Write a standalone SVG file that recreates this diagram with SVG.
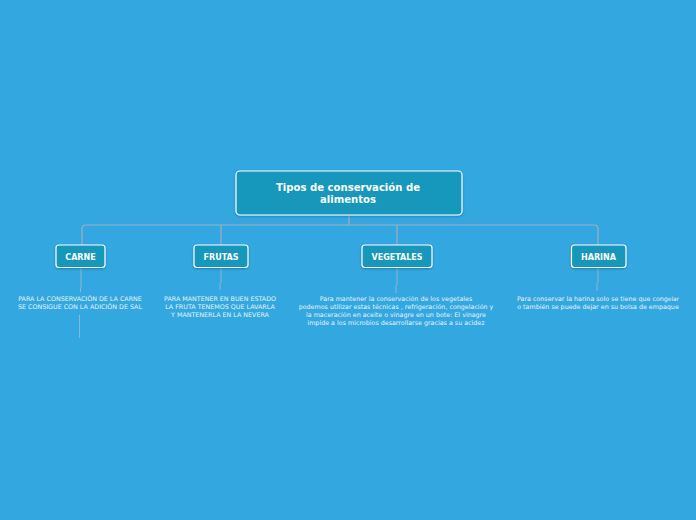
<svg xmlns="http://www.w3.org/2000/svg" width="696" height="520" viewBox="0 0 696 520">
  <style>
    .bg { fill: #33a7e0; }
    .box { fill: #1398bd; stroke: #ffffff; stroke-width: 1.2; }
    .main { font-family: "DejaVu Sans", Verdana, sans-serif; font-weight: bold; font-size: 10.1px; fill: #ffffff; text-anchor: middle; }
    .lbl { font-family: "DejaVu Sans", Verdana, sans-serif; font-weight: bold; font-size: 8px; fill: #ffffff; text-anchor: middle; }
    .desc { font-family: "DejaVu Sans", Verdana, sans-serif; font-size: 6.35px; fill: #e6f3fb; text-anchor: middle; }
    .conn { fill: none; stroke: #a4b0b8; stroke-width: 1.2; }
    .sub { fill: none; stroke: #9ab8cc; stroke-width: 0.9; }
  </style>
  <defs>
    <filter id="sh" x="-20%" y="-20%" width="140%" height="160%">
      <feDropShadow dx="0" dy="1" stdDeviation="0.8" flood-color="#0b4f70" flood-opacity="0.45"/>
    </filter>
  </defs>
  <rect class="bg" x="0" y="0" width="696" height="520"/>

  <g id="connectors">
    <path class="conn" d="M349 215 V225"/>
    <path class="conn" d="M82 245 V229 Q82 225 86 225 H594 Q598 225 598 229 V245"/>
    <path class="conn" d="M221 225 V245"/>
    <path class="conn" d="M397 225 V245"/>
    <path class="sub" d="M81 268 V288 M80.5 288 V292"/>
    <path class="sub" d="M79.5 315 V338"/>
    <path class="sub" d="M221 268 V283 M220 283 V290"/>
    <path class="sub" d="M397 268 V285 M396 285 V293"/>
    <path class="sub" d="M598 268 V283 M597 283 V291"/>
  </g>

  <g id="root">
    <rect class="box" x="236" y="171" width="226" height="44" rx="4" filter="url(#sh)"/>
    <text class="main" x="348" y="191">Tipos de conservación de</text>
    <text class="main" x="348" y="203">alimentos</text>
  </g>

  <g id="carne">
    <rect class="box" x="56" y="245" width="49" height="22.5" rx="3" filter="url(#sh)"/>
    <text class="lbl" x="80.5" y="259.5">CARNE</text>
  </g>
  <g id="frutas">
    <rect class="box" x="194" y="245" width="54" height="22.5" rx="3" filter="url(#sh)"/>
    <text class="lbl" x="221" y="259.5">FRUTAS</text>
  </g>
  <g id="vegetales">
    <rect class="box" x="362" y="245" width="70" height="22.5" rx="3" filter="url(#sh)"/>
    <text class="lbl" x="397" y="259.5">VEGETALES</text>
  </g>
  <g id="harina">
    <rect class="box" x="571.5" y="245" width="54.5" height="22.5" rx="3" filter="url(#sh)"/>
    <text class="lbl" x="598.5" y="259.5">HARINA</text>
  </g>

  <g id="carne-text">
    <text class="desc" x="80" y="300.5">PARA LA CONSERVACIÓN DE LA CARNE</text>
    <text class="desc" x="80" y="308.7">SE CONSIGUE CON LA ADICIÓN DE SAL</text>
  </g>
  <g id="frutas-text">
    <text class="desc" x="220" y="300.5">PARA MANTENER EN BUEN ESTADO</text>
    <text class="desc" x="220" y="308.7">LA FRUTA TENEMOS QUE LAVARLA</text>
    <text class="desc" x="220" y="316.9">Y MANTENERLA EN LA NEVERA</text>
  </g>
  <g id="vegetales-text">
    <text class="desc" x="396" y="300.5">Para mantener la conservación de los vegetales</text>
    <text class="desc" x="396" y="308.7">podemos utilizar estas técnicas , refrigeración, congelación y</text>
    <text class="desc" x="396" y="316.9">la maceración en aceite o vinagre en un bote: El vinagre</text>
    <text class="desc" x="396" y="325.1">impide a los microbios desarrollarse gracias a su acidez</text>
  </g>
  <g id="harina-text">
    <text class="desc" x="598" y="300.5">Para conservar la harina solo se tiene que cong<tspan font-size="5.8" dy="0.8">elar</tspan></text>
    <text class="desc" x="598" y="308.7">o también se puede dejar en su bolsa de empaque</text>
  </g>
</svg>
